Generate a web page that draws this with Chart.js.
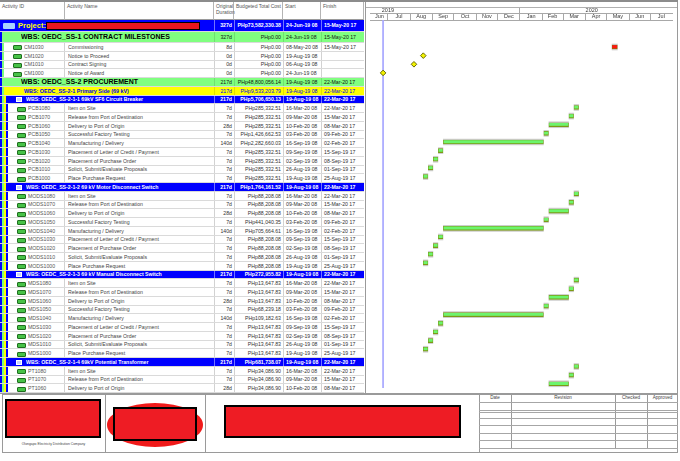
<!DOCTYPE html>
<html>
<head>
<meta charset="utf-8">
<title>OEDC substation schedule</title>
<script src="https://cdn.jsdelivr.net/npm/chart.js@4.4.1/dist/chart.umd.min.js"></script>
<style>
  html, body { margin: 0; padding: 0; background: #fff; }
  body { width: 680px; height: 461px; position: relative; overflow: hidden;
         font-family: 'Liberation Sans', Arial, sans-serif; color: #333; }
  .abs { position: absolute; }
  .r { position: absolute; left: 0; width: 364px; box-sizing: border-box; border-bottom: 1px solid #dadada; overflow: hidden; }
  .t { position: absolute; top: 0; bottom: 0; white-space: nowrap; overflow: hidden;
       display: flex; align-items: center; box-sizing: border-box; font-size: 5.2px; }
  .hd { position: absolute; top: 2px; height: 18px; box-sizing: border-box; border-right: 1px solid #b4b4b4;
        border-bottom: 1px solid #9a9a9a; font-size: 5px; color: #555; padding: 2px 2px; line-height: 5.8px; }
  #gantt { position: absolute; left: 366px; top: 0; }
  .ft { position: absolute; font-size: 4.6px; color: #444; text-align: center; }
</style>
</head>
<body>
<div class="abs" style="left:0;top:0;width:678px;height:2px;background:#8c8c8c"></div>
<div id="table"></div>
<canvas id="gantt" width="311" height="393"></canvas>
<div class="abs" style="left:365px;top:2px;width:1px;height:391px;background:#9a9a9a"></div>
<div class="abs" style="left:677px;top:2px;width:1px;height:391px;background:#9a9a9a"></div>
<div class="abs" style="left:366px;top:7px;width:311px;height:1px;background:#b0b0b0"></div>
<div class="abs" style="left:0;top:393px;width:678px;height:1px;background:#9a9a9a"></div>
<div id="footer"></div>

<script>
// ---- schedule data ----
const rowKinds = [
  'proj', 'wbs1', 'task', 'ms', 'ms', 'ms',
  'wbs1', 'wbs2',
  'wbs3', 'task', 'task', 'task', 'task', 'task', 'task', 'task', 'task', 'task',
  'wbs3', 'task', 'task', 'task', 'task', 'task', 'task', 'task', 'task', 'task',
  'wbs3', 'task', 'task', 'task', 'task', 'task', 'task', 'task', 'task', 'task',
  'wbs3', 'task', 'task', 'task'
];

const rowLabels = [
  'Project:', 'WBS: OEDC_SS-1  CONTRACT MILESTONES', 'CM1030', 'CM1020', 'CM1010', 'CM1000',
  'WBS: OEDC_SS-2  PROCUREMENT', 'WBS: OEDC_SS-2-1  Primary Side (69 kV)',
  'WBS: OEDC_SS-2-1-1  69kV SF6 Circuit Breaker',
  'PCB1080', 'PCB1070', 'PCB1060', 'PCB1050', 'PCB1040', 'PCB1030', 'PCB1020', 'PCB1010', 'PCB1000',
  'WBS: OEDC_SS-2-1-2  69 kV Motor Disconnect Switch',
  'MODS1080', 'MODS1070', 'MODS1060', 'MODS1050', 'MODS1040', 'MODS1030', 'MODS1020', 'MODS1010', 'MODS1000',
  'WBS: OEDC_SS-2-1-3  69 kV Manual Disconnect Switch',
  'MDS1080', 'MDS1070', 'MDS1060', 'MDS1050', 'MDS1040', 'MDS1030', 'MDS1020', 'MDS1010', 'MDS1000',
  'WBS: OEDC_SS-2-1-4  69kV Potential Transformer',
  'PT1080', 'PT1070', 'PT1060'
];

const procSteps = [
  'Item on Site', 'Release from Port of Destination', 'Delivery to Port of Origin',
  'Successful Factory Testing', 'Manufacturing / Delivery', 'Placement of Letter of Credit / Payment',
  'Placement of Purchase Order', 'Solicit, Submit/Evaluate Proposals', 'Place Purchase Request'
];

const activityNames = [
  '', '', 'Commissioning', 'Notice to Proceed', 'Contract Signing', 'Notice of Award',
  '', '',
  '', ...procSteps,
  '', ...procSteps,
  '', ...procSteps,
  '', 'Item on Site', 'Release from Port of Destination', 'Delivery to Port of Origin'
];

const durations = [
  '327d', '327d', '8d', '0d', '0d', '0d',
  '217d', '217d',
  '217d', '7d', '7d', '28d', '7d', '140d', '7d', '7d', '7d', '7d',
  '217d', '7d', '7d', '28d', '7d', '140d', '7d', '7d', '7d', '7d',
  '217d', '7d', '7d', '28d', '7d', '140d', '7d', '7d', '7d', '7d',
  '217d', '7d', '7d', '28d'
];

const costs = [
  'PHp73,582,330.38', 'PHp0.00', 'PHp0.00', 'PHp0.00', 'PHp0.00', 'PHp0.00',
  'PHp48,800,056.14', 'PHp9,533,203.79',
  'PHp5,706,650.13', 'PHp285,332.51', 'PHp285,332.51', 'PHp285,332.51', 'PHp1,426,662.53',
  'PHp2,282,660.03', 'PHp285,332.51', 'PHp285,332.51', 'PHp285,332.51', 'PHp285,332.51',
  'PHp1,764,161.52', 'PHp88,208.08', 'PHp88,208.08', 'PHp88,208.08', 'PHp441,040.35',
  'PHp705,664.61', 'PHp88,208.08', 'PHp88,208.08', 'PHp88,208.08', 'PHp88,208.08',
  'PHp272,955.82', 'PHp13,647.83', 'PHp13,647.83', 'PHp13,647.83', 'PHp68,239.18',
  'PHp109,182.63', 'PHp13,647.83', 'PHp13,647.83', 'PHp13,647.83', 'PHp13,647.83',
  'PHp681,738.07', 'PHp34,086.90', 'PHp34,086.90', 'PHp34,086.90'
];

const procStarts = ['16-Mar-20 08', '09-Mar-20 08', '10-Feb-20 08', '03-Feb-20 08', '16-Sep-19 08',
                    '09-Sep-19 08', '02-Sep-19 08', '26-Aug-19 08', '19-Aug-19 08'];
const procFinishes = ['22-Mar-20 17', '15-Mar-20 17', '08-Mar-20 17', '09-Feb-20 17', '02-Feb-20 17',
                      '15-Sep-19 17', '08-Sep-19 17', '01-Sep-19 17', '25-Aug-19 17'];

const starts = [
  '24-Jun-19 08', '24-Jun-19 08', '08-May-20 08', '19-Aug-19 08', '06-Aug-19 08', '24-Jun-19 08',
  '19-Aug-19 08', '19-Aug-19 08',
  '19-Aug-19 08', ...procStarts,
  '19-Aug-19 08', ...procStarts,
  '19-Aug-19 08', ...procStarts,
  '19-Aug-19 08', '16-Mar-20 08', '09-Mar-20 08', '10-Feb-20 08'
];

const finishes = [
  '15-May-20 17', '15-May-20 17', '15-May-20 17', '', '', '',
  '22-Mar-20 17', '22-Mar-20 17',
  '22-Mar-20 17', ...procFinishes,
  '22-Mar-20 17', ...procFinishes,
  '22-Mar-20 17', ...procFinishes,
  '22-Mar-20 17', '22-Mar-20 17', '15-Mar-20 17', '08-Mar-20 17'
];

const criticalIds = ['CM1030'];

// timescale
const monthLabels = ['Jun', 'Jul', 'Aug', 'Sep', 'Oct', 'Nov', 'Dec', 'Jan', 'Feb', 'Mar', 'Apr', 'May', 'Jun', 'Jul'];
const yearLabels = ['2019', '2020'];
const yearLabelDates = ['01-Jul-19 00', '10-Apr-20 00'];
const yearBreaks = ['01-Jan-20 00'];
const viewStart = '07-Jun-19 08';
const viewEnd = '31-Jul-20 00';
const dataDate = '24-Jun-19 08';

// ---- helpers ----
const MON = ['Jan', 'Feb', 'Mar', 'Apr', 'May', 'Jun', 'Jul', 'Aug', 'Sep', 'Oct', 'Nov', 'Dec'];
const DAY_MS = 864e5;
function toDay(s) {
  const [date, hh] = s.split(' ');
  const [d, m, y] = date.split('-');
  return Date.UTC(2000 + Number(y), MON.indexOf(m), Number(d), Number(hh || 0)) / DAY_MS;
}

// row geometry, shared by the table and the gantt y scale
const HEAD_H = 20, BIG_ROW = 11.5, ROW_H = 8.75;
const rowH = i => (i < 2 ? BIG_ROW : ROW_H);
const rowTop = i => HEAD_H + (i < 2 ? i * BIG_ROW : 2 * BIG_ROW + (i - 2) * ROW_H);

// nesting level of every row (for the coloured indent stripes)
const levels = [];
let wbsLevel = 0;
rowKinds.forEach(k => {
  if (k === 'proj') wbsLevel = 0;
  else if (k === 'wbs1') wbsLevel = 1;
  else if (k === 'wbs2') wbsLevel = 2;
  else if (k === 'wbs3') wbsLevel = 3;
  levels.push(k === 'task' || k === 'ms' ? wbsLevel + 1 : wbsLevel);
});

function el(parent, cls, css, text) {
  const d = document.createElement('div');
  if (cls) d.className = cls;
  Object.assign(d.style, css);
  if (text != null) d.textContent = text;
  parent.appendChild(d);
  return d;
}

// ---- activity table ----
const STRIPES = ['#0000ff', '#7cfc7c', '#ffff00', '#0000ff'];
const STYLE = {
  proj: { bg: '#0000ff', title: '#ffff00', val: '#ffffff', bold: true, size: '7.5px', x: 18, line: 'rgba(255,255,255,0.45)' },
  wbs1: { bg: '#80ff80', title: '#000000', val: '#111111', bold: true, size: '7px', x: 21, line: 'rgba(0,0,0,0.12)' },
  wbs2: { bg: '#ffff00', title: '#0000e6', val: '#0000e6', bold: true, size: '5.4px', x: 24, line: 'rgba(0,0,0,0.12)' },
  wbs3: { bg: '#0000ff', title: '#ffffff', val: '#ffffff', bold: true, size: '5.2px', x: 26, line: 'rgba(255,255,255,0.45)' },
  task: { bg: '#ffffff', title: '#444444', val: '#333333', bold: false, size: '5.2px', x: 0, line: '#d2d2d2' }
};
STYLE.ms = STYLE.task;

const table = document.getElementById('table');
const heads = [
  [0, 65, 'Activity ID', 'left'], [65, 214, 'Activity Name', 'left'], [214, 234, 'Original Duration', 'right'],
  [234, 283, 'Budgeted Total Cost', 'left'], [283, 321, 'Start', 'left'], [321, 364, 'Finish', 'left']
];
heads.forEach(([a, b, txt, al]) => {
  el(table, 'hd', { left: a + 'px', width: (b - a) + 'px', textAlign: al, whiteSpace: al === 'right' ? 'normal' : 'nowrap' }, txt);
});

rowKinds.forEach((kind, i) => {
  const st = STYLE[kind];
  const row = el(table, 'r', { top: rowTop(i) + 'px', height: rowH(i) + 'px', background: st.bg });
  const lvl = levels[i];
  for (let s = 0; s < lvl; s++) {
    el(row, null, { position: 'absolute', left: (s * 2) + 'px', top: 0, bottom: 0, width: '2px', background: STRIPES[s] });
  }
  const font = { color: st.title, fontSize: st.size, fontWeight: st.bold ? 'bold' : 'normal' };
  if (kind === 'task' || kind === 'ms') {
    const ix = 2 * lvl + 9;
    el(row, null, { position: 'absolute', left: ix + 'px', top: (rowH(i) / 2 - 2) + 'px', width: '7px', height: '3px',
                    background: '#47c247', border: '0.6px solid #1f6e1f', borderRadius: '1px' });
    el(row, 't', Object.assign({ left: (ix + 11) + 'px', width: (65 - ix - 11) + 'px' }, font, { color: '#555' }), rowLabels[i]);
    el(row, null, { position: 'absolute', left: '64px', top: 0, bottom: 0, width: '1px', background: st.line });
    el(row, 't', Object.assign({ left: '68px', width: '146px' }, font), activityNames[i]);
  } else {
    if (kind === 'proj') {
      el(row, null, { position: 'absolute', left: '3px', top: '2.5px', width: '12px', height: '6px', background: '#a9d1ff', borderRadius: '1px' });
      el(row, null, { position: 'absolute', left: '46px', top: '2px', width: '154px', height: '7.5px', background: '#e8161e',
                      border: '1.5px solid #000', boxSizing: 'border-box' });
    }
    if (kind === 'wbs3') {
      el(row, null, { position: 'absolute', left: '16px', top: (rowH(i) / 2 - 2.5) + 'px', width: '6px', height: '5px',
                      background: '#c7d2ff', border: '0.5px solid #ffffff', boxSizing: 'border-box' });
    }
    el(row, 't', Object.assign({ left: st.x + 'px', width: (kind === 'proj' ? 28 : 214 - st.x) + 'px' }, font), rowLabels[i]);
  }
  const valFont = { color: st.val, fontWeight: kind === 'proj' || kind === 'wbs3' ? 'bold' : 'normal' };
  const cells = [[214, 234, durations[i], 'flex-end'], [234, 283, costs[i], 'flex-end'],
                 [283, 321, starts[i], 'flex-start'], [321, 364, finishes[i], 'flex-start']];
  cells.forEach(([a, b, txt, jc]) => {
    el(row, 't', Object.assign({ left: a + 'px', width: (b - a) + 'px', justifyContent: jc, padding: '0 2px',
                                 borderLeft: '1px solid ' + st.line }, valFont), txt);
  });
});

// ---- gantt chart ----
const xMin = toDay(viewStart), xMax = toDay(viewEnd);
const yMin = 1.5 - 2 * BIG_ROW / ROW_H;
const yMax = rowKinds.length - 0.5;

// month header: labelled tick in the middle of the visible part of each month, unlabelled tick at each month break
const monthTicks = [];
const d0 = new Date(xMin * DAY_MS);
monthLabels.forEach((name, k) => {
  const a = Date.UTC(d0.getUTCFullYear(), d0.getUTCMonth() + k, 1) / DAY_MS;
  const b = Date.UTC(d0.getUTCFullYear(), d0.getUTCMonth() + k + 1, 1) / DAY_MS;
  monthTicks.push({ value: (Math.max(a, xMin) + Math.min(b, xMax)) / 2, name });
  if (b < xMax) monthTicks.push({ value: b, name: '', edge: true });
});
const yearTicks = yearLabels.map((name, k) => ({ value: toDay(yearLabelDates[k]), name }))
  .concat(yearBreaks.map(s => ({ value: toDay(s), name: '', edge: true })))
  .sort((p, q) => p.value - q.value);

const taskRows = rowKinds.map((k, i) => (k === 'task' ? i : -1)).filter(i => i >= 0);
const msRows = rowKinds.map((k, i) => (k === 'ms' ? i : -1)).filter(i => i >= 0);
const span = i => ({ x: [toDay(starts[i]), toDay(finishes[i])], y: i });
const isCrit = i => criticalIds.includes(rowLabels[i]);

Chart.defaults.font.family = "'Liberation Sans', Arial, sans-serif";

function headerAxis(ticks, weight, height, pad) {
  return {
    type: 'linear', axis: 'x', position: 'top', weight, min: xMin, max: xMax, offset: false,
    afterBuildTicks: s => { s.ticks = ticks.map(t => Object.assign({}, t)); s.min = xMin; s.max = xMax; },
    afterFit: s => { s.height = height; s.paddingLeft = 0; s.paddingRight = 0; },
    ticks: { autoSkip: false, maxRotation: 0, minRotation: 0, padding: pad, color: '#3a3a3a',
             font: { size: 5.5 }, callback: (v, i, t) => t[i].name },
    grid: { drawOnChartArea: false, tickLength: height, offset: false,
            color: c => (c.tick && c.tick.edge ? '#a8a8a8' : 'rgba(0,0,0,0)') },
    border: { display: true, color: '#a8a8a8' }
  };
}

new Chart(document.getElementById('gantt'), {
  type: 'bar',
  data: {
    datasets: [
      {
        type: 'line', xAxisID: 'x', yAxisID: 'y',
        data: [{ x: toDay(dataDate), y: yMin }, { x: toDay(dataDate), y: yMax }],
        borderColor: '#a9a9ff', borderWidth: 1, pointRadius: 0, order: 5
      },
      {
        xAxisID: 'x', yAxisID: 'y',
        data: taskRows.map(span), backgroundColor: '#cdcdcd',
        barThickness: 6, grouped: false, order: 4
      },
      {
        xAxisID: 'x', yAxisID: 'y',
        data: taskRows.map(span),
        backgroundColor: taskRows.map(i => (isCrit(i) ? '#ff1414' : '#6cf56c')),
        borderColor: taskRows.map(i => (isCrit(i) ? '#9a6a00' : '#7c9a14')),
        borderWidth: { top: 0.6, left: 0.6, right: 0.6, bottom: 1.2 }, borderSkipped: false,
        barThickness: 4, grouped: false, order: 3
      },
      {
        type: 'scatter', xAxisID: 'x', yAxisID: 'y',
        data: msRows.map(i => ({ x: toDay(starts[i]), y: i })),
        pointStyle: 'rectRot', pointRadius: 2.8, backgroundColor: '#f2f200',
        borderColor: '#5a5a00', borderWidth: 0.9, order: 1
      }
    ]
  },
  options: {
    indexAxis: 'y',
    responsive: false,
    animation: false,
    events: [],
    layout: { padding: { top: 7, left: 0, right: 0, bottom: 0 } },
    plugins: { legend: { display: false }, tooltip: { enabled: false } },
    scales: {
      x: headerAxis(monthTicks, 0, 7, -6.9),
      x2: headerAxis(yearTicks, 1, 6, -6.3),
      y: {
        type: 'linear', reverse: true, min: yMin, max: yMax, offset: false, bounds: 'data', display: false,
        afterBuildTicks: s => { s.min = yMin; s.max = yMax; }
      }
    }
  }
});

// ---- title block ----
const footer = document.getElementById('footer');
el(footer, null, { position: 'absolute', left: '2px', top: '394px', width: '676px', height: '59px', border: '1px solid #9a9a9a', boxSizing: 'border-box' });
[105, 205, 479].forEach(x => el(footer, null, { position: 'absolute', left: x + 'px', top: '394px', width: '1px', height: '59px', background: '#9a9a9a' }));
el(footer, null, { position: 'absolute', left: '5px', top: '399px', width: '96px', height: '39px', background: '#ee1c24', border: '2px solid #000', boxSizing: 'border-box' });
el(footer, 'ft', { left: '2px', top: '442px', width: '103px', fontSize: '3.4px' }, 'Olongapo Electricity Distribution Company');
el(footer, null, { position: 'absolute', left: '107px', top: '403px', width: '96px', height: '44px', background: '#f01a1a', borderRadius: '50%' });
el(footer, null, { position: 'absolute', left: '113px', top: '407px', width: '84px', height: '34px', background: '#ee1c24', border: '2px solid #000', boxSizing: 'border-box' });
el(footer, null, { position: 'absolute', left: '224px', top: '405px', width: '237px', height: '33px', background: '#ee1c24', border: '2px solid #000', boxSizing: 'border-box' });

const revCols = [[479, 511, 'Date'], [511, 615, 'Revision'], [615, 647, 'Checked'], [647, 678, 'Approved']];
revCols.forEach(([a, b, txt]) => {
  el(footer, 'ft', { left: a + 'px', top: '395px', width: (b - a) + 'px' }, txt);
  if (a > 479) el(footer, null, { position: 'absolute', left: a + 'px', top: '394px', width: '1px', height: '54px', background: '#9a9a9a' });
});
[402, 410, 412, 418, 425, 433, 440, 448].forEach(y => {
  el(footer, null, { position: 'absolute', left: '479px', top: y + 'px', width: '199px', height: '1px', background: '#a6a6a6' });
});
</script>
</body>
</html>
